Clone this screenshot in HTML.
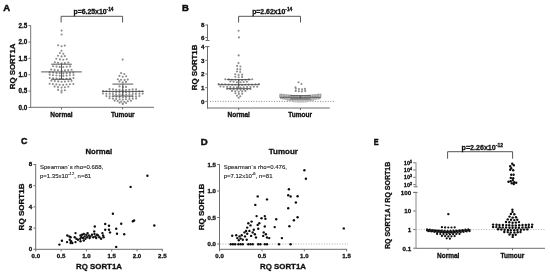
<!DOCTYPE html>
<html><head><meta charset="utf-8"><title>Figure</title>
<style>html,body{margin:0;padding:0;background:#fff;}svg{display:block}text{font-family:"Liberation Sans",sans-serif;}text[font-weight=bold]{stroke:#111;stroke-width:0.3px;}</style>
</head><body>
<svg width="550" height="273" viewBox="0 0 550 273">
<defs><filter id="soft" x="0" y="0" width="550" height="273" filterUnits="userSpaceOnUse"><feGaussianBlur stdDeviation="0.3"/></filter></defs>
<rect width="550" height="273" fill="#fff"/>
<g filter="url(#soft)">
<text x="6.7" y="10.9" font-size="9.5" font-weight="bold" text-anchor="middle" fill="#111" style="stroke-width:0.5px">A</text>
<line x1="30.7" y1="25.3" x2="30.7" y2="107.8" stroke="#777" stroke-width="1" />
<line x1="30.2" y1="107.3" x2="154" y2="107.3" stroke="#6e6e6e" stroke-width="1" />
<line x1="28.5" y1="25.7" x2="30.7" y2="25.7" stroke="#6e6e6e" stroke-width="1" />
<text x="27.3" y="27.9" font-size="6.3" font-weight="bold" text-anchor="end" fill="#111" >2.5</text>
<line x1="28.5" y1="42.1" x2="30.7" y2="42.1" stroke="#6e6e6e" stroke-width="1" />
<text x="27.3" y="44.300000000000004" font-size="6.3" font-weight="bold" text-anchor="end" fill="#111" >2.0</text>
<line x1="28.5" y1="58.4" x2="30.7" y2="58.4" stroke="#6e6e6e" stroke-width="1" />
<text x="27.3" y="60.6" font-size="6.3" font-weight="bold" text-anchor="end" fill="#111" >1.5</text>
<line x1="28.5" y1="74.8" x2="30.7" y2="74.8" stroke="#6e6e6e" stroke-width="1" />
<text x="27.3" y="77.0" font-size="6.3" font-weight="bold" text-anchor="end" fill="#111" >1.0</text>
<line x1="28.5" y1="91.1" x2="30.7" y2="91.1" stroke="#6e6e6e" stroke-width="1" />
<text x="27.3" y="93.3" font-size="6.3" font-weight="bold" text-anchor="end" fill="#111" >0.5</text>
<line x1="28.5" y1="107.5" x2="30.7" y2="107.5" stroke="#6e6e6e" stroke-width="1" />
<text x="27.3" y="109.7" font-size="6.3" font-weight="bold" text-anchor="end" fill="#111" >0.0</text>
<line x1="61.5" y1="107.3" x2="61.5" y2="109.4" stroke="#6e6e6e" stroke-width="1" />
<line x1="122.6" y1="107.3" x2="122.6" y2="109.4" stroke="#6e6e6e" stroke-width="1" />
<text x="15.3" y="66.4" font-size="7.8" font-weight="bold" text-anchor="middle" fill="#111" transform="rotate(-90 15.3 66.4)" >RQ SORT1A</text>
<text x="61.4" y="116.8" font-size="6.5" font-weight="bold" text-anchor="middle" fill="#111" >Normal</text>
<text x="122.8" y="116.8" font-size="6.5" font-weight="bold" text-anchor="middle" fill="#111" >Tumour</text>
<path d="M61.1 22.5V16.3H122.6V22.5" fill="none" stroke="#555" stroke-width="1"/>
<text x="93.5" y="14.2" font-size="6.9" font-weight="bold" text-anchor="middle" fill="#111">p=6.25x10<tspan dy="-3" font-size="4.8">-14</tspan></text>
<circle cx="61.6" cy="30.6" r="1.05" fill="#8c8c8c"/>
<circle cx="61.6" cy="34.5" r="1.05" fill="#8c8c8c"/>
<circle cx="61.6" cy="46.2" r="1.05" fill="#8c8c8c"/>
<circle cx="64.8" cy="45.6" r="1.05" fill="#8c8c8c"/>
<circle cx="58.1" cy="45.3" r="1.05" fill="#8c8c8c"/>
<circle cx="61.5" cy="50.7" r="1.05" fill="#8c8c8c"/>
<circle cx="63.3" cy="53.7" r="1.05" fill="#8c8c8c"/>
<circle cx="59.9" cy="53.0" r="1.05" fill="#8c8c8c"/>
<circle cx="61.6" cy="56.4" r="1.05" fill="#8c8c8c"/>
<circle cx="64.8" cy="56.1" r="1.05" fill="#8c8c8c"/>
<circle cx="58.0" cy="55.8" r="1.05" fill="#8c8c8c"/>
<circle cx="63.3" cy="59.7" r="1.05" fill="#8c8c8c"/>
<circle cx="59.9" cy="59.4" r="1.05" fill="#8c8c8c"/>
<circle cx="66.7" cy="59.2" r="1.05" fill="#8c8c8c"/>
<circle cx="56.3" cy="58.7" r="1.05" fill="#8c8c8c"/>
<circle cx="61.6" cy="63.2" r="1.05" fill="#8c8c8c"/>
<circle cx="64.9" cy="63.1" r="1.05" fill="#8c8c8c"/>
<circle cx="58.0" cy="62.7" r="1.05" fill="#8c8c8c"/>
<circle cx="68.3" cy="62.5" r="1.05" fill="#8c8c8c"/>
<circle cx="54.8" cy="62.3" r="1.05" fill="#8c8c8c"/>
<circle cx="63.3" cy="67.0" r="1.05" fill="#8c8c8c"/>
<circle cx="59.7" cy="66.9" r="1.05" fill="#8c8c8c"/>
<circle cx="66.7" cy="66.7" r="1.05" fill="#8c8c8c"/>
<circle cx="56.5" cy="66.6" r="1.05" fill="#8c8c8c"/>
<circle cx="70.1" cy="66.4" r="1.05" fill="#8c8c8c"/>
<circle cx="53.0" cy="66.2" r="1.05" fill="#8c8c8c"/>
<circle cx="61.6" cy="70.7" r="1.05" fill="#8c8c8c"/>
<circle cx="64.9" cy="70.4" r="1.05" fill="#8c8c8c"/>
<circle cx="58.0" cy="70.3" r="1.05" fill="#8c8c8c"/>
<circle cx="68.2" cy="70.1" r="1.05" fill="#8c8c8c"/>
<circle cx="54.6" cy="69.9" r="1.05" fill="#8c8c8c"/>
<circle cx="71.6" cy="69.7" r="1.05" fill="#8c8c8c"/>
<circle cx="51.2" cy="69.6" r="1.05" fill="#8c8c8c"/>
<circle cx="63.3" cy="73.4" r="1.05" fill="#8c8c8c"/>
<circle cx="59.7" cy="73.2" r="1.05" fill="#8c8c8c"/>
<circle cx="66.7" cy="73.1" r="1.05" fill="#8c8c8c"/>
<circle cx="56.5" cy="73.0" r="1.05" fill="#8c8c8c"/>
<circle cx="70.0" cy="72.9" r="1.05" fill="#8c8c8c"/>
<circle cx="53.1" cy="72.6" r="1.05" fill="#8c8c8c"/>
<circle cx="73.3" cy="72.6" r="1.05" fill="#8c8c8c"/>
<circle cx="49.6" cy="72.4" r="1.05" fill="#8c8c8c"/>
<circle cx="63.3" cy="75.9" r="1.05" fill="#8c8c8c"/>
<circle cx="59.8" cy="75.7" r="1.05" fill="#8c8c8c"/>
<circle cx="66.6" cy="75.6" r="1.05" fill="#8c8c8c"/>
<circle cx="56.4" cy="75.5" r="1.05" fill="#8c8c8c"/>
<circle cx="69.9" cy="75.3" r="1.05" fill="#8c8c8c"/>
<circle cx="52.9" cy="75.2" r="1.05" fill="#8c8c8c"/>
<circle cx="73.5" cy="75.0" r="1.05" fill="#8c8c8c"/>
<circle cx="49.7" cy="74.8" r="1.05" fill="#8c8c8c"/>
<circle cx="63.1" cy="79.1" r="1.05" fill="#8c8c8c"/>
<circle cx="59.8" cy="78.9" r="1.05" fill="#8c8c8c"/>
<circle cx="66.5" cy="78.7" r="1.05" fill="#8c8c8c"/>
<circle cx="56.5" cy="78.5" r="1.05" fill="#8c8c8c"/>
<circle cx="70.0" cy="78.5" r="1.05" fill="#8c8c8c"/>
<circle cx="53.1" cy="78.2" r="1.05" fill="#8c8c8c"/>
<circle cx="73.4" cy="78.1" r="1.05" fill="#8c8c8c"/>
<circle cx="49.7" cy="78.0" r="1.05" fill="#8c8c8c"/>
<circle cx="61.6" cy="81.8" r="1.05" fill="#8c8c8c"/>
<circle cx="64.9" cy="81.6" r="1.05" fill="#8c8c8c"/>
<circle cx="58.2" cy="81.4" r="1.05" fill="#8c8c8c"/>
<circle cx="68.4" cy="81.3" r="1.05" fill="#8c8c8c"/>
<circle cx="54.8" cy="81.1" r="1.05" fill="#8c8c8c"/>
<circle cx="71.6" cy="81.0" r="1.05" fill="#8c8c8c"/>
<circle cx="51.4" cy="80.7" r="1.05" fill="#8c8c8c"/>
<circle cx="63.1" cy="84.9" r="1.05" fill="#8c8c8c"/>
<circle cx="59.7" cy="84.7" r="1.05" fill="#8c8c8c"/>
<circle cx="66.5" cy="84.5" r="1.05" fill="#8c8c8c"/>
<circle cx="56.3" cy="84.4" r="1.05" fill="#8c8c8c"/>
<circle cx="69.9" cy="84.2" r="1.05" fill="#8c8c8c"/>
<circle cx="52.9" cy="84.1" r="1.05" fill="#8c8c8c"/>
<circle cx="73.3" cy="84.0" r="1.05" fill="#8c8c8c"/>
<circle cx="49.6" cy="83.8" r="1.05" fill="#8c8c8c"/>
<circle cx="61.6" cy="87.6" r="1.05" fill="#8c8c8c"/>
<circle cx="64.9" cy="87.3" r="1.05" fill="#8c8c8c"/>
<circle cx="58.0" cy="87.1" r="1.05" fill="#8c8c8c"/>
<circle cx="68.3" cy="86.8" r="1.05" fill="#8c8c8c"/>
<circle cx="54.6" cy="86.6" r="1.05" fill="#8c8c8c"/>
<circle cx="61.6" cy="90.5" r="1.05" fill="#8c8c8c"/>
<circle cx="64.9" cy="90.2" r="1.05" fill="#8c8c8c"/>
<circle cx="58.1" cy="89.9" r="1.05" fill="#8c8c8c"/>
<circle cx="61.5" cy="92.4" r="1.05" fill="#8c8c8c"/>
<line x1="41.2" y1="71.9" x2="81.8" y2="71.9" stroke="#444" stroke-width="0.9" />
<line x1="51.2" y1="64.2" x2="71.8" y2="64.2" stroke="#444" stroke-width="0.9" />
<line x1="51.2" y1="79.3" x2="71.8" y2="79.3" stroke="#444" stroke-width="0.9" />
<line x1="61.5" y1="64.2" x2="61.5" y2="79.3" stroke="#444" stroke-width="0.9" />
<circle cx="122.6" cy="59.6" r="1.05" fill="#8c8c8c"/>
<circle cx="124.3" cy="74.0" r="1.05" fill="#8c8c8c"/>
<circle cx="121.1" cy="73.1" r="1.05" fill="#8c8c8c"/>
<circle cx="122.7" cy="76.7" r="1.05" fill="#8c8c8c"/>
<circle cx="126.2" cy="76.3" r="1.05" fill="#8c8c8c"/>
<circle cx="119.4" cy="75.9" r="1.05" fill="#8c8c8c"/>
<circle cx="124.6" cy="79.9" r="1.05" fill="#8c8c8c"/>
<circle cx="121.0" cy="79.8" r="1.05" fill="#8c8c8c"/>
<circle cx="127.8" cy="79.6" r="1.05" fill="#8c8c8c"/>
<circle cx="117.8" cy="79.2" r="1.05" fill="#8c8c8c"/>
<circle cx="122.8" cy="82.4" r="1.05" fill="#8c8c8c"/>
<circle cx="126.0" cy="81.9" r="1.05" fill="#8c8c8c"/>
<circle cx="119.4" cy="81.4" r="1.05" fill="#8c8c8c"/>
<circle cx="122.9" cy="87.1" r="1.05" fill="#8c8c8c"/>
<circle cx="126.0" cy="86.9" r="1.05" fill="#8c8c8c"/>
<circle cx="119.5" cy="86.4" r="1.05" fill="#8c8c8c"/>
<circle cx="122.7" cy="90.2" r="1.05" fill="#8c8c8c"/>
<circle cx="126.0" cy="90.0" r="1.05" fill="#8c8c8c"/>
<circle cx="119.5" cy="89.9" r="1.05" fill="#8c8c8c"/>
<circle cx="129.3" cy="89.7" r="1.05" fill="#8c8c8c"/>
<circle cx="116.2" cy="89.7" r="1.05" fill="#8c8c8c"/>
<circle cx="132.7" cy="89.4" r="1.05" fill="#8c8c8c"/>
<circle cx="113.0" cy="89.3" r="1.05" fill="#8c8c8c"/>
<circle cx="136.1" cy="89.2" r="1.05" fill="#8c8c8c"/>
<circle cx="109.5" cy="89.1" r="1.05" fill="#8c8c8c"/>
<circle cx="122.9" cy="92.3" r="1.05" fill="#8c8c8c"/>
<circle cx="126.0" cy="92.2" r="1.05" fill="#8c8c8c"/>
<circle cx="119.4" cy="92.1" r="1.05" fill="#8c8c8c"/>
<circle cx="129.3" cy="92.0" r="1.05" fill="#8c8c8c"/>
<circle cx="116.2" cy="91.9" r="1.05" fill="#8c8c8c"/>
<circle cx="132.7" cy="91.8" r="1.05" fill="#8c8c8c"/>
<circle cx="113.0" cy="91.7" r="1.05" fill="#8c8c8c"/>
<circle cx="136.0" cy="91.6" r="1.05" fill="#8c8c8c"/>
<circle cx="109.7" cy="91.5" r="1.05" fill="#8c8c8c"/>
<circle cx="139.2" cy="91.4" r="1.05" fill="#8c8c8c"/>
<circle cx="106.4" cy="91.3" r="1.05" fill="#8c8c8c"/>
<circle cx="142.5" cy="91.2" r="1.05" fill="#8c8c8c"/>
<circle cx="103.1" cy="91.1" r="1.05" fill="#8c8c8c"/>
<circle cx="122.7" cy="94.6" r="1.05" fill="#8c8c8c"/>
<circle cx="126.2" cy="94.5" r="1.05" fill="#8c8c8c"/>
<circle cx="119.6" cy="94.4" r="1.05" fill="#8c8c8c"/>
<circle cx="129.4" cy="94.3" r="1.05" fill="#8c8c8c"/>
<circle cx="116.1" cy="94.2" r="1.05" fill="#8c8c8c"/>
<circle cx="132.7" cy="94.1" r="1.05" fill="#8c8c8c"/>
<circle cx="112.9" cy="94.0" r="1.05" fill="#8c8c8c"/>
<circle cx="135.9" cy="93.9" r="1.05" fill="#8c8c8c"/>
<circle cx="109.7" cy="93.8" r="1.05" fill="#8c8c8c"/>
<circle cx="139.4" cy="93.7" r="1.05" fill="#8c8c8c"/>
<circle cx="106.3" cy="93.7" r="1.05" fill="#8c8c8c"/>
<circle cx="142.7" cy="93.6" r="1.05" fill="#8c8c8c"/>
<circle cx="102.9" cy="93.5" r="1.05" fill="#8c8c8c"/>
<circle cx="122.9" cy="97.2" r="1.05" fill="#8c8c8c"/>
<circle cx="126.0" cy="97.0" r="1.05" fill="#8c8c8c"/>
<circle cx="119.5" cy="96.9" r="1.05" fill="#8c8c8c"/>
<circle cx="129.5" cy="96.8" r="1.05" fill="#8c8c8c"/>
<circle cx="116.3" cy="96.7" r="1.05" fill="#8c8c8c"/>
<circle cx="132.6" cy="96.6" r="1.05" fill="#8c8c8c"/>
<circle cx="112.8" cy="96.5" r="1.05" fill="#8c8c8c"/>
<circle cx="136.0" cy="96.4" r="1.05" fill="#8c8c8c"/>
<circle cx="109.7" cy="96.2" r="1.05" fill="#8c8c8c"/>
<circle cx="139.4" cy="96.1" r="1.05" fill="#8c8c8c"/>
<circle cx="106.4" cy="96.1" r="1.05" fill="#8c8c8c"/>
<circle cx="122.8" cy="99.5" r="1.05" fill="#8c8c8c"/>
<circle cx="126.0" cy="99.3" r="1.05" fill="#8c8c8c"/>
<circle cx="119.6" cy="99.2" r="1.05" fill="#8c8c8c"/>
<circle cx="129.4" cy="99.0" r="1.05" fill="#8c8c8c"/>
<circle cx="116.2" cy="99.0" r="1.05" fill="#8c8c8c"/>
<circle cx="132.8" cy="98.7" r="1.05" fill="#8c8c8c"/>
<circle cx="113.0" cy="98.7" r="1.05" fill="#8c8c8c"/>
<circle cx="136.1" cy="98.5" r="1.05" fill="#8c8c8c"/>
<circle cx="109.5" cy="98.3" r="1.05" fill="#8c8c8c"/>
<circle cx="124.3" cy="101.7" r="1.05" fill="#8c8c8c"/>
<circle cx="121.2" cy="101.5" r="1.05" fill="#8c8c8c"/>
<circle cx="127.8" cy="101.2" r="1.05" fill="#8c8c8c"/>
<circle cx="117.7" cy="101.0" r="1.05" fill="#8c8c8c"/>
<circle cx="131.0" cy="100.8" r="1.05" fill="#8c8c8c"/>
<circle cx="114.7" cy="100.6" r="1.05" fill="#8c8c8c"/>
<circle cx="122.7" cy="103.5" r="1.05" fill="#8c8c8c"/>
<circle cx="126.0" cy="103.0" r="1.05" fill="#8c8c8c"/>
<circle cx="119.6" cy="102.6" r="1.05" fill="#8c8c8c"/>
<circle cx="122.8" cy="104.0" r="1.05" fill="#8c8c8c"/>
<line x1="102.0" y1="91.4" x2="143.6" y2="91.4" stroke="#444" stroke-width="0.9" />
<line x1="112.39999999999999" y1="84.1" x2="133.2" y2="84.1" stroke="#444" stroke-width="0.9" />
<line x1="112.39999999999999" y1="96" x2="133.2" y2="96" stroke="#444" stroke-width="0.9" />
<line x1="122.8" y1="84.1" x2="122.8" y2="96" stroke="#444" stroke-width="0.9" />
<text x="185.4" y="10.8" font-size="9.5" font-weight="bold" text-anchor="middle" fill="#111" style="stroke-width:0.5px">B</text>
<line x1="207.5" y1="24.5" x2="207.5" y2="40.5" stroke="#6e6e6e" stroke-width="1" />
<line x1="205.5" y1="40.5" x2="209.5" y2="40.5" stroke="#6e6e6e" stroke-width="1" />
<line x1="205.5" y1="46.6" x2="209.5" y2="46.6" stroke="#6e6e6e" stroke-width="1" />
<line x1="207.5" y1="46.6" x2="207.5" y2="108.5" stroke="#6e6e6e" stroke-width="1" />
<line x1="207" y1="108" x2="329.8" y2="108" stroke="#6e6e6e" stroke-width="1" />
<line x1="205.3" y1="25" x2="207.5" y2="25" stroke="#6e6e6e" stroke-width="1" />
<text x="204.4" y="27.2" font-size="6.2" font-weight="bold" text-anchor="end" fill="#111" >8</text>
<line x1="205.3" y1="37.5" x2="207.5" y2="37.5" stroke="#6e6e6e" stroke-width="1" />
<text x="204.4" y="39.7" font-size="6.2" font-weight="bold" text-anchor="end" fill="#111" >6</text>
<line x1="205.3" y1="46.6" x2="207.5" y2="46.6" stroke="#6e6e6e" stroke-width="1" />
<text x="204.4" y="48.800000000000004" font-size="6.2" font-weight="bold" text-anchor="end" fill="#111" >4</text>
<line x1="205.3" y1="60.3" x2="207.5" y2="60.3" stroke="#6e6e6e" stroke-width="1" />
<text x="204.4" y="62.5" font-size="6.2" font-weight="bold" text-anchor="end" fill="#111" >3</text>
<line x1="205.3" y1="74" x2="207.5" y2="74" stroke="#6e6e6e" stroke-width="1" />
<text x="204.4" y="76.2" font-size="6.2" font-weight="bold" text-anchor="end" fill="#111" >2</text>
<line x1="205.3" y1="87.7" x2="207.5" y2="87.7" stroke="#6e6e6e" stroke-width="1" />
<text x="204.4" y="89.9" font-size="6.2" font-weight="bold" text-anchor="end" fill="#111" >1</text>
<line x1="205.3" y1="101.4" x2="207.5" y2="101.4" stroke="#6e6e6e" stroke-width="1" />
<text x="204.4" y="103.60000000000001" font-size="6.2" font-weight="bold" text-anchor="end" fill="#111" >0</text>
<line x1="210" y1="101.4" x2="334" y2="101.4" stroke="#8a8a8a" stroke-width="1" stroke-dasharray="1 1.56"/>
<line x1="238.6" y1="108" x2="238.6" y2="110" stroke="#6e6e6e" stroke-width="1" />
<line x1="300.5" y1="108" x2="300.5" y2="110" stroke="#6e6e6e" stroke-width="1" />
<text x="197.3" y="67.4" font-size="7.8" font-weight="bold" text-anchor="middle" fill="#111" transform="rotate(-90 197.3 67.4)" >RQ SORT1B</text>
<text x="238.7" y="116.8" font-size="6.5" font-weight="bold" text-anchor="middle" fill="#111" >Normal</text>
<text x="300.2" y="116.8" font-size="6.5" font-weight="bold" text-anchor="middle" fill="#111" >Tumour</text>
<path d="M238.6 22.5V16.3H300.5V22.5" fill="none" stroke="#555" stroke-width="1"/>
<text x="272.2" y="14.2" font-size="6.9" font-weight="bold" text-anchor="middle" fill="#111">p=2.62x10<tspan dy="-3" font-size="4.8">-14</tspan></text>
<circle cx="238.6" cy="30.7" r="1.05" fill="#8c8c8c"/>
<circle cx="238.9" cy="37.4" r="1.05" fill="#8c8c8c"/>
<circle cx="238.7" cy="55.4" r="1.05" fill="#8c8c8c"/>
<circle cx="238.5" cy="63.1" r="1.05" fill="#8c8c8c"/>
<circle cx="240.4" cy="66.5" r="1.05" fill="#8c8c8c"/>
<circle cx="237.1" cy="65.9" r="1.05" fill="#8c8c8c"/>
<circle cx="240.3" cy="69.4" r="1.05" fill="#8c8c8c"/>
<circle cx="237.3" cy="69.1" r="1.05" fill="#8c8c8c"/>
<circle cx="240.1" cy="72.0" r="1.05" fill="#8c8c8c"/>
<circle cx="237.0" cy="71.5" r="1.05" fill="#8c8c8c"/>
<circle cx="238.6" cy="74.9" r="1.05" fill="#8c8c8c"/>
<circle cx="242.1" cy="74.6" r="1.05" fill="#8c8c8c"/>
<circle cx="235.3" cy="74.3" r="1.05" fill="#8c8c8c"/>
<circle cx="238.7" cy="77.2" r="1.05" fill="#8c8c8c"/>
<circle cx="242.1" cy="76.9" r="1.05" fill="#8c8c8c"/>
<circle cx="235.3" cy="76.8" r="1.05" fill="#8c8c8c"/>
<circle cx="238.8" cy="80.1" r="1.05" fill="#8c8c8c"/>
<circle cx="242.0" cy="80.0" r="1.05" fill="#8c8c8c"/>
<circle cx="235.4" cy="79.8" r="1.05" fill="#8c8c8c"/>
<circle cx="245.4" cy="79.7" r="1.05" fill="#8c8c8c"/>
<circle cx="231.9" cy="79.7" r="1.05" fill="#8c8c8c"/>
<circle cx="248.8" cy="79.4" r="1.05" fill="#8c8c8c"/>
<circle cx="228.8" cy="79.4" r="1.05" fill="#8c8c8c"/>
<circle cx="252.2" cy="79.3" r="1.05" fill="#8c8c8c"/>
<circle cx="225.3" cy="79.2" r="1.05" fill="#8c8c8c"/>
<circle cx="240.5" cy="82.3" r="1.05" fill="#8c8c8c"/>
<circle cx="236.9" cy="82.2" r="1.05" fill="#8c8c8c"/>
<circle cx="243.6" cy="82.0" r="1.05" fill="#8c8c8c"/>
<circle cx="233.6" cy="81.8" r="1.05" fill="#8c8c8c"/>
<circle cx="246.9" cy="81.7" r="1.05" fill="#8c8c8c"/>
<circle cx="230.3" cy="81.5" r="1.05" fill="#8c8c8c"/>
<circle cx="238.7" cy="84.9" r="1.05" fill="#8c8c8c"/>
<circle cx="242.0" cy="84.9" r="1.05" fill="#8c8c8c"/>
<circle cx="235.3" cy="84.8" r="1.05" fill="#8c8c8c"/>
<circle cx="245.3" cy="84.8" r="1.05" fill="#8c8c8c"/>
<circle cx="232.1" cy="84.7" r="1.05" fill="#8c8c8c"/>
<circle cx="248.7" cy="84.6" r="1.05" fill="#8c8c8c"/>
<circle cx="228.6" cy="84.5" r="1.05" fill="#8c8c8c"/>
<circle cx="252.0" cy="84.5" r="1.05" fill="#8c8c8c"/>
<circle cx="225.3" cy="84.3" r="1.05" fill="#8c8c8c"/>
<circle cx="255.5" cy="84.3" r="1.05" fill="#8c8c8c"/>
<circle cx="221.9" cy="84.2" r="1.05" fill="#8c8c8c"/>
<circle cx="258.9" cy="84.1" r="1.05" fill="#8c8c8c"/>
<circle cx="218.7" cy="84.0" r="1.05" fill="#8c8c8c"/>
<circle cx="240.5" cy="87.5" r="1.05" fill="#8c8c8c"/>
<circle cx="237.0" cy="87.4" r="1.05" fill="#8c8c8c"/>
<circle cx="243.7" cy="87.3" r="1.05" fill="#8c8c8c"/>
<circle cx="233.7" cy="87.2" r="1.05" fill="#8c8c8c"/>
<circle cx="247.1" cy="87.1" r="1.05" fill="#8c8c8c"/>
<circle cx="230.3" cy="87.1" r="1.05" fill="#8c8c8c"/>
<circle cx="250.5" cy="87.0" r="1.05" fill="#8c8c8c"/>
<circle cx="227.1" cy="86.9" r="1.05" fill="#8c8c8c"/>
<circle cx="253.8" cy="86.8" r="1.05" fill="#8c8c8c"/>
<circle cx="223.6" cy="86.7" r="1.05" fill="#8c8c8c"/>
<circle cx="257.2" cy="86.7" r="1.05" fill="#8c8c8c"/>
<circle cx="220.4" cy="86.5" r="1.05" fill="#8c8c8c"/>
<circle cx="240.5" cy="89.7" r="1.05" fill="#8c8c8c"/>
<circle cx="237.2" cy="89.6" r="1.05" fill="#8c8c8c"/>
<circle cx="243.9" cy="89.5" r="1.05" fill="#8c8c8c"/>
<circle cx="233.6" cy="89.3" r="1.05" fill="#8c8c8c"/>
<circle cx="247.1" cy="89.2" r="1.05" fill="#8c8c8c"/>
<circle cx="230.2" cy="89.1" r="1.05" fill="#8c8c8c"/>
<circle cx="250.5" cy="89.0" r="1.05" fill="#8c8c8c"/>
<circle cx="227.1" cy="88.8" r="1.05" fill="#8c8c8c"/>
<circle cx="238.8" cy="91.8" r="1.05" fill="#8c8c8c"/>
<circle cx="242.1" cy="91.4" r="1.05" fill="#8c8c8c"/>
<circle cx="235.3" cy="91.2" r="1.05" fill="#8c8c8c"/>
<circle cx="245.4" cy="91.1" r="1.05" fill="#8c8c8c"/>
<circle cx="232.0" cy="90.9" r="1.05" fill="#8c8c8c"/>
<circle cx="238.8" cy="93.9" r="1.05" fill="#8c8c8c"/>
<circle cx="242.2" cy="93.7" r="1.05" fill="#8c8c8c"/>
<circle cx="235.4" cy="93.2" r="1.05" fill="#8c8c8c"/>
<circle cx="240.3" cy="96.3" r="1.05" fill="#8c8c8c"/>
<circle cx="237.0" cy="95.8" r="1.05" fill="#8c8c8c"/>
<circle cx="238.7" cy="97.7" r="1.05" fill="#8c8c8c"/>
<line x1="217.89999999999998" y1="84.7" x2="259.5" y2="84.7" stroke="#444" stroke-width="0.9" />
<line x1="226.7" y1="79.6" x2="250.7" y2="79.6" stroke="#444" stroke-width="0.9" />
<line x1="226.7" y1="88.7" x2="250.7" y2="88.7" stroke="#444" stroke-width="0.9" />
<line x1="238.7" y1="79.6" x2="238.7" y2="88.7" stroke="#444" stroke-width="0.9" />
<circle cx="298.5" cy="82.3" r="1.05" fill="#8c8c8c"/>
<circle cx="301.4" cy="84.0" r="1.05" fill="#8c8c8c"/>
<circle cx="295.4" cy="87.2" r="1.05" fill="#8c8c8c"/>
<circle cx="302.1" cy="89.2" r="1.05" fill="#8c8c8c"/>
<circle cx="299.0" cy="89.0" r="1.05" fill="#8c8c8c"/>
<circle cx="305.0" cy="88.9" r="1.05" fill="#8c8c8c"/>
<circle cx="295.8" cy="88.6" r="1.05" fill="#8c8c8c"/>
<circle cx="301.9" cy="91.4" r="1.05" fill="#8c8c8c"/>
<circle cx="298.8" cy="91.2" r="1.05" fill="#8c8c8c"/>
<circle cx="305.2" cy="91.1" r="1.05" fill="#8c8c8c"/>
<circle cx="295.7" cy="90.9" r="1.05" fill="#8c8c8c"/>
<circle cx="280.1" cy="94.3" r="0.9" fill="#a2a2a2"/>
<circle cx="281.7" cy="94.5" r="0.9" fill="#a2a2a2"/>
<circle cx="283.3" cy="94.7" r="0.9" fill="#a2a2a2"/>
<circle cx="284.9" cy="94.9" r="0.9" fill="#a2a2a2"/>
<circle cx="286.5" cy="95.0" r="0.9" fill="#a2a2a2"/>
<circle cx="288.2" cy="95.2" r="0.9" fill="#a2a2a2"/>
<circle cx="289.8" cy="95.3" r="0.9" fill="#a2a2a2"/>
<circle cx="291.4" cy="95.5" r="0.9" fill="#a2a2a2"/>
<circle cx="293.0" cy="95.6" r="0.9" fill="#a2a2a2"/>
<circle cx="294.6" cy="95.7" r="0.9" fill="#a2a2a2"/>
<circle cx="296.2" cy="95.8" r="0.9" fill="#a2a2a2"/>
<circle cx="297.9" cy="95.8" r="0.9" fill="#a2a2a2"/>
<circle cx="299.5" cy="95.9" r="0.9" fill="#a2a2a2"/>
<circle cx="301.1" cy="95.9" r="0.9" fill="#a2a2a2"/>
<circle cx="302.7" cy="95.8" r="0.9" fill="#a2a2a2"/>
<circle cx="304.4" cy="95.8" r="0.9" fill="#a2a2a2"/>
<circle cx="306.0" cy="95.7" r="0.9" fill="#a2a2a2"/>
<circle cx="307.6" cy="95.6" r="0.9" fill="#a2a2a2"/>
<circle cx="309.2" cy="95.5" r="0.9" fill="#a2a2a2"/>
<circle cx="310.8" cy="95.3" r="0.9" fill="#a2a2a2"/>
<circle cx="312.4" cy="95.2" r="0.9" fill="#a2a2a2"/>
<circle cx="314.1" cy="95.0" r="0.9" fill="#a2a2a2"/>
<circle cx="315.7" cy="94.9" r="0.9" fill="#a2a2a2"/>
<circle cx="317.3" cy="94.7" r="0.9" fill="#a2a2a2"/>
<circle cx="318.9" cy="94.5" r="0.9" fill="#a2a2a2"/>
<circle cx="320.6" cy="94.3" r="0.9" fill="#a2a2a2"/>
<circle cx="280.1" cy="95.6" r="0.9" fill="#a2a2a2"/>
<circle cx="281.7" cy="95.8" r="0.9" fill="#a2a2a2"/>
<circle cx="283.3" cy="96.0" r="0.9" fill="#a2a2a2"/>
<circle cx="284.9" cy="96.2" r="0.9" fill="#a2a2a2"/>
<circle cx="286.5" cy="96.3" r="0.9" fill="#a2a2a2"/>
<circle cx="288.2" cy="96.5" r="0.9" fill="#a2a2a2"/>
<circle cx="289.8" cy="96.6" r="0.9" fill="#a2a2a2"/>
<circle cx="291.4" cy="96.8" r="0.9" fill="#a2a2a2"/>
<circle cx="293.0" cy="96.9" r="0.9" fill="#a2a2a2"/>
<circle cx="294.6" cy="97.0" r="0.9" fill="#a2a2a2"/>
<circle cx="296.2" cy="97.1" r="0.9" fill="#a2a2a2"/>
<circle cx="297.9" cy="97.1" r="0.9" fill="#a2a2a2"/>
<circle cx="299.5" cy="97.2" r="0.9" fill="#a2a2a2"/>
<circle cx="301.1" cy="97.2" r="0.9" fill="#a2a2a2"/>
<circle cx="302.7" cy="97.1" r="0.9" fill="#a2a2a2"/>
<circle cx="304.4" cy="97.1" r="0.9" fill="#a2a2a2"/>
<circle cx="306.0" cy="97.0" r="0.9" fill="#a2a2a2"/>
<circle cx="307.6" cy="96.9" r="0.9" fill="#a2a2a2"/>
<circle cx="309.2" cy="96.8" r="0.9" fill="#a2a2a2"/>
<circle cx="310.8" cy="96.6" r="0.9" fill="#a2a2a2"/>
<circle cx="312.4" cy="96.5" r="0.9" fill="#a2a2a2"/>
<circle cx="314.1" cy="96.3" r="0.9" fill="#a2a2a2"/>
<circle cx="315.7" cy="96.2" r="0.9" fill="#a2a2a2"/>
<circle cx="317.3" cy="96.0" r="0.9" fill="#a2a2a2"/>
<circle cx="318.9" cy="95.8" r="0.9" fill="#a2a2a2"/>
<circle cx="320.6" cy="95.6" r="0.9" fill="#a2a2a2"/>
<circle cx="280.1" cy="96.9" r="0.9" fill="#a2a2a2"/>
<circle cx="281.7" cy="97.1" r="0.9" fill="#a2a2a2"/>
<circle cx="283.3" cy="97.3" r="0.9" fill="#a2a2a2"/>
<circle cx="284.9" cy="97.5" r="0.9" fill="#a2a2a2"/>
<circle cx="286.5" cy="97.6" r="0.9" fill="#a2a2a2"/>
<circle cx="288.2" cy="97.8" r="0.9" fill="#a2a2a2"/>
<circle cx="289.8" cy="97.9" r="0.9" fill="#a2a2a2"/>
<circle cx="291.4" cy="98.1" r="0.9" fill="#a2a2a2"/>
<circle cx="293.0" cy="98.2" r="0.9" fill="#a2a2a2"/>
<circle cx="294.6" cy="98.3" r="0.9" fill="#a2a2a2"/>
<circle cx="296.2" cy="98.4" r="0.9" fill="#a2a2a2"/>
<circle cx="297.9" cy="98.4" r="0.9" fill="#a2a2a2"/>
<circle cx="299.5" cy="98.5" r="0.9" fill="#a2a2a2"/>
<circle cx="301.1" cy="98.5" r="0.9" fill="#a2a2a2"/>
<circle cx="302.7" cy="98.4" r="0.9" fill="#a2a2a2"/>
<circle cx="304.4" cy="98.4" r="0.9" fill="#a2a2a2"/>
<circle cx="306.0" cy="98.3" r="0.9" fill="#a2a2a2"/>
<circle cx="307.6" cy="98.2" r="0.9" fill="#a2a2a2"/>
<circle cx="309.2" cy="98.1" r="0.9" fill="#a2a2a2"/>
<circle cx="310.8" cy="97.9" r="0.9" fill="#a2a2a2"/>
<circle cx="312.4" cy="97.8" r="0.9" fill="#a2a2a2"/>
<circle cx="314.1" cy="97.6" r="0.9" fill="#a2a2a2"/>
<circle cx="315.7" cy="97.5" r="0.9" fill="#a2a2a2"/>
<circle cx="317.3" cy="97.3" r="0.9" fill="#a2a2a2"/>
<circle cx="318.9" cy="97.1" r="0.9" fill="#a2a2a2"/>
<circle cx="320.6" cy="96.9" r="0.9" fill="#a2a2a2"/>
<circle cx="280.9" cy="98.3" r="0.9" fill="#a2a2a2"/>
<circle cx="282.5" cy="98.5" r="0.9" fill="#a2a2a2"/>
<circle cx="284.1" cy="98.7" r="0.9" fill="#a2a2a2"/>
<circle cx="285.7" cy="98.9" r="0.9" fill="#a2a2a2"/>
<circle cx="287.3" cy="99.0" r="0.9" fill="#a2a2a2"/>
<circle cx="289.0" cy="99.2" r="0.9" fill="#a2a2a2"/>
<circle cx="290.6" cy="99.3" r="0.9" fill="#a2a2a2"/>
<circle cx="292.2" cy="99.4" r="0.9" fill="#a2a2a2"/>
<circle cx="293.8" cy="99.5" r="0.9" fill="#a2a2a2"/>
<circle cx="295.4" cy="99.6" r="0.9" fill="#a2a2a2"/>
<circle cx="297.1" cy="99.7" r="0.9" fill="#a2a2a2"/>
<circle cx="298.7" cy="99.8" r="0.9" fill="#a2a2a2"/>
<circle cx="300.3" cy="99.8" r="0.9" fill="#a2a2a2"/>
<circle cx="301.9" cy="99.8" r="0.9" fill="#a2a2a2"/>
<circle cx="303.5" cy="99.7" r="0.9" fill="#a2a2a2"/>
<circle cx="305.2" cy="99.6" r="0.9" fill="#a2a2a2"/>
<circle cx="306.8" cy="99.5" r="0.9" fill="#a2a2a2"/>
<circle cx="308.4" cy="99.4" r="0.9" fill="#a2a2a2"/>
<circle cx="310.0" cy="99.3" r="0.9" fill="#a2a2a2"/>
<circle cx="311.6" cy="99.2" r="0.9" fill="#a2a2a2"/>
<circle cx="313.3" cy="99.0" r="0.9" fill="#a2a2a2"/>
<circle cx="314.9" cy="98.9" r="0.9" fill="#a2a2a2"/>
<circle cx="316.5" cy="98.7" r="0.9" fill="#a2a2a2"/>
<circle cx="318.1" cy="98.5" r="0.9" fill="#a2a2a2"/>
<circle cx="319.7" cy="98.3" r="0.9" fill="#a2a2a2"/>
<circle cx="287.3" cy="100.1" r="0.9" fill="#b4b4b4"/>
<circle cx="289.0" cy="100.3" r="0.9" fill="#b4b4b4"/>
<circle cx="290.6" cy="100.4" r="0.9" fill="#b4b4b4"/>
<circle cx="292.2" cy="100.5" r="0.9" fill="#b4b4b4"/>
<circle cx="293.8" cy="100.6" r="0.9" fill="#b4b4b4"/>
<circle cx="295.4" cy="100.7" r="0.9" fill="#b4b4b4"/>
<circle cx="297.1" cy="100.8" r="0.9" fill="#b4b4b4"/>
<circle cx="298.7" cy="100.9" r="0.9" fill="#b4b4b4"/>
<circle cx="300.3" cy="100.9" r="0.9" fill="#b4b4b4"/>
<circle cx="301.9" cy="100.9" r="0.9" fill="#b4b4b4"/>
<circle cx="303.5" cy="100.8" r="0.9" fill="#b4b4b4"/>
<circle cx="305.2" cy="100.7" r="0.9" fill="#b4b4b4"/>
<circle cx="306.8" cy="100.6" r="0.9" fill="#b4b4b4"/>
<circle cx="308.4" cy="100.5" r="0.9" fill="#b4b4b4"/>
<circle cx="310.0" cy="100.4" r="0.9" fill="#b4b4b4"/>
<circle cx="311.6" cy="100.3" r="0.9" fill="#b4b4b4"/>
<circle cx="313.3" cy="100.1" r="0.9" fill="#b4b4b4"/>
<circle cx="293.8" cy="101.6" r="0.9" fill="#c4c4c4"/>
<circle cx="295.4" cy="101.7" r="0.9" fill="#c4c4c4"/>
<circle cx="297.1" cy="101.8" r="0.9" fill="#c4c4c4"/>
<circle cx="298.7" cy="101.9" r="0.9" fill="#c4c4c4"/>
<circle cx="300.3" cy="101.9" r="0.9" fill="#c4c4c4"/>
<circle cx="301.9" cy="101.9" r="0.9" fill="#c4c4c4"/>
<circle cx="303.5" cy="101.8" r="0.9" fill="#c4c4c4"/>
<circle cx="305.2" cy="101.7" r="0.9" fill="#c4c4c4"/>
<circle cx="306.8" cy="101.6" r="0.9" fill="#c4c4c4"/>
<line x1="279.8" y1="97.3" x2="320.8" y2="97.3" stroke="#4a4a4a" stroke-width="0.8" />
<line x1="290.1" y1="95.6" x2="310.5" y2="95.6" stroke="#4a4a4a" stroke-width="0.8" />
<line x1="290.1" y1="98.9" x2="310.5" y2="98.9" stroke="#4a4a4a" stroke-width="0.8" />
<line x1="300.3" y1="95.6" x2="300.3" y2="98.9" stroke="#4a4a4a" stroke-width="0.8" />
<text transform="translate(21.1,144.2) scale(0.92,1.02)" font-size="9.6" font-weight="bold" fill="#111" style="stroke-width:0.5px">C</text>
<text x="98.8" y="154.1" font-size="7.75" font-weight="bold" text-anchor="middle" fill="#111" >Normal</text>
<line x1="35.7" y1="164" x2="35.7" y2="249.8" stroke="#6e6e6e" stroke-width="1" />
<line x1="35.5" y1="249.3" x2="162.8" y2="249.3" stroke="#6e6e6e" stroke-width="1" />
<line x1="33.4" y1="164.5" x2="35.7" y2="164.5" stroke="#6e6e6e" stroke-width="1" />
<text x="32.3" y="166.4" font-size="6.2" font-weight="bold" text-anchor="end" fill="#111" >8</text>
<line x1="33.4" y1="185.7" x2="35.7" y2="185.7" stroke="#6e6e6e" stroke-width="1" />
<text x="32.3" y="187.6" font-size="6.2" font-weight="bold" text-anchor="end" fill="#111" >6</text>
<line x1="33.4" y1="206.9" x2="35.7" y2="206.9" stroke="#6e6e6e" stroke-width="1" />
<text x="32.3" y="208.8" font-size="6.2" font-weight="bold" text-anchor="end" fill="#111" >4</text>
<line x1="33.4" y1="228.1" x2="35.7" y2="228.1" stroke="#6e6e6e" stroke-width="1" />
<text x="32.3" y="230.0" font-size="6.2" font-weight="bold" text-anchor="end" fill="#111" >2</text>
<line x1="33.4" y1="249.3" x2="35.7" y2="249.3" stroke="#6e6e6e" stroke-width="1" />
<text x="32.3" y="251.20000000000002" font-size="6.2" font-weight="bold" text-anchor="end" fill="#111" >0</text>
<line x1="35.8" y1="249.3" x2="35.8" y2="251.4" stroke="#6e6e6e" stroke-width="1" />
<text x="35.8" y="258.3" font-size="6.1" font-weight="bold" text-anchor="middle" fill="#111" >0.0</text>
<line x1="61.1" y1="249.3" x2="61.1" y2="251.4" stroke="#6e6e6e" stroke-width="1" />
<text x="61.1" y="258.3" font-size="6.1" font-weight="bold" text-anchor="middle" fill="#111" >0.5</text>
<line x1="86.4" y1="249.3" x2="86.4" y2="251.4" stroke="#6e6e6e" stroke-width="1" />
<text x="86.4" y="258.3" font-size="6.1" font-weight="bold" text-anchor="middle" fill="#111" >1.0</text>
<line x1="111.7" y1="249.3" x2="111.7" y2="251.4" stroke="#6e6e6e" stroke-width="1" />
<text x="111.7" y="258.3" font-size="6.1" font-weight="bold" text-anchor="middle" fill="#111" >1.5</text>
<line x1="137" y1="249.3" x2="137" y2="251.4" stroke="#6e6e6e" stroke-width="1" />
<text x="137" y="258.3" font-size="6.1" font-weight="bold" text-anchor="middle" fill="#111" >2.0</text>
<line x1="162.3" y1="249.3" x2="162.3" y2="251.4" stroke="#6e6e6e" stroke-width="1" />
<text x="162.3" y="258.3" font-size="6.1" font-weight="bold" text-anchor="middle" fill="#111" >2.5</text>
<text x="99" y="269" font-size="7.9" font-weight="bold" text-anchor="middle" fill="#111" >RQ SORT1A</text>
<text x="24.2" y="206.9" font-size="8.05" font-weight="bold" text-anchor="middle" fill="#111" transform="rotate(-90 24.2 206.9)" >RQ SORT1B</text>
<text x="40" y="169" font-size="6.0" font-weight="normal" text-anchor="start" fill="#222" stroke="#222" stroke-width="0.12">Spearman´s rho=0.688,</text>
<text x="40" y="177.6" font-size="6" fill="#222" stroke="#222" stroke-width="0.12">p=1.35x10<tspan dy="-2.4" font-size="4.2">-12</tspan><tspan dy="2.4">, n=81</tspan></text>
<circle cx="59.4" cy="244.6" r="1.2" fill="#111"/>
<circle cx="61.9" cy="240.8" r="1.2" fill="#111"/>
<circle cx="67.3" cy="235.5" r="1.2" fill="#111"/>
<circle cx="67.0" cy="242.1" r="1.2" fill="#111"/>
<circle cx="69.4" cy="236.4" r="1.2" fill="#111"/>
<circle cx="70.6" cy="237.2" r="1.2" fill="#111"/>
<circle cx="69.8" cy="239.7" r="1.2" fill="#111"/>
<circle cx="71.1" cy="241.3" r="1.2" fill="#111"/>
<circle cx="72.3" cy="243.0" r="1.2" fill="#111"/>
<circle cx="70.6" cy="243.0" r="1.2" fill="#111"/>
<circle cx="75.5" cy="233.1" r="1.2" fill="#111"/>
<circle cx="74.7" cy="237.2" r="1.2" fill="#111"/>
<circle cx="76.4" cy="238.8" r="1.2" fill="#111"/>
<circle cx="75.5" cy="242.1" r="1.2" fill="#111"/>
<circle cx="78.0" cy="239.7" r="1.2" fill="#111"/>
<circle cx="80.5" cy="235.5" r="1.2" fill="#111"/>
<circle cx="80.2" cy="238.8" r="1.2" fill="#111"/>
<circle cx="81.3" cy="237.2" r="1.2" fill="#111"/>
<circle cx="80.5" cy="241.3" r="1.2" fill="#111"/>
<circle cx="82.1" cy="234.7" r="1.2" fill="#111"/>
<circle cx="83.0" cy="238.0" r="1.2" fill="#111"/>
<circle cx="83.8" cy="233.9" r="1.2" fill="#111"/>
<circle cx="84.6" cy="236.4" r="1.2" fill="#111"/>
<circle cx="83.8" cy="240.5" r="1.2" fill="#111"/>
<circle cx="85.4" cy="238.8" r="1.2" fill="#111"/>
<circle cx="86.3" cy="234.7" r="1.2" fill="#111"/>
<circle cx="87.6" cy="233.1" r="1.2" fill="#111"/>
<circle cx="87.1" cy="237.2" r="1.2" fill="#111"/>
<circle cx="88.7" cy="235.5" r="1.2" fill="#111"/>
<circle cx="89.6" cy="238.0" r="1.2" fill="#111"/>
<circle cx="90.4" cy="236.4" r="1.2" fill="#111"/>
<circle cx="92.0" cy="234.7" r="1.2" fill="#111"/>
<circle cx="93.2" cy="237.2" r="1.2" fill="#111"/>
<circle cx="94.2" cy="231.4" r="1.2" fill="#111"/>
<circle cx="94.5" cy="233.9" r="1.2" fill="#111"/>
<circle cx="94.8" cy="226.5" r="1.2" fill="#111"/>
<circle cx="95.3" cy="236.4" r="1.2" fill="#111"/>
<circle cx="96.2" cy="238.0" r="1.2" fill="#111"/>
<circle cx="97.0" cy="234.7" r="1.2" fill="#111"/>
<circle cx="98.1" cy="235.5" r="1.2" fill="#111"/>
<circle cx="99.4" cy="237.2" r="1.2" fill="#111"/>
<circle cx="101.1" cy="238.8" r="1.2" fill="#111"/>
<circle cx="102.4" cy="233.1" r="1.2" fill="#111"/>
<circle cx="103.1" cy="235.5" r="1.2" fill="#111"/>
<circle cx="103.6" cy="237.2" r="1.2" fill="#111"/>
<circle cx="105.2" cy="229.8" r="1.2" fill="#111"/>
<circle cx="105.2" cy="224.0" r="1.2" fill="#111"/>
<circle cx="109.0" cy="229.8" r="1.2" fill="#111"/>
<circle cx="109.0" cy="225.7" r="1.2" fill="#111"/>
<circle cx="112.9" cy="213.7" r="1.2" fill="#111"/>
<circle cx="121.2" cy="223.7" r="1.2" fill="#111"/>
<circle cx="116.2" cy="228.7" r="1.2" fill="#111"/>
<circle cx="110.0" cy="232.4" r="1.2" fill="#111"/>
<circle cx="117.0" cy="233.7" r="1.2" fill="#111"/>
<circle cx="124.2" cy="234.2" r="1.2" fill="#111"/>
<circle cx="132.9" cy="221.2" r="1.2" fill="#111"/>
<circle cx="134.1" cy="220.5" r="1.2" fill="#111"/>
<circle cx="154.3" cy="225.5" r="1.2" fill="#111"/>
<circle cx="116.2" cy="246.9" r="1.2" fill="#111"/>
<circle cx="147.4" cy="175.7" r="1.2" fill="#111"/>
<circle cx="130.6" cy="186.9" r="1.2" fill="#111"/>
<text x="204.3" y="144.8" font-size="9.6" font-weight="bold" text-anchor="middle" fill="#111" style="stroke-width:0.5px">D</text>
<text x="283.3" y="154.1" font-size="8.0" font-weight="bold" text-anchor="middle" fill="#111" >Tumour</text>
<line x1="219.5" y1="164" x2="219.5" y2="249.8" stroke="#6e6e6e" stroke-width="1" />
<line x1="219" y1="249.3" x2="347.1" y2="249.3" stroke="#6e6e6e" stroke-width="1" />
<line x1="217.2" y1="164.5" x2="219.5" y2="164.5" stroke="#6e6e6e" stroke-width="1" />
<text x="216" y="166.7" font-size="6.1" font-weight="bold" text-anchor="end" fill="#111" >1.5</text>
<line x1="217.2" y1="191" x2="219.5" y2="191" stroke="#6e6e6e" stroke-width="1" />
<text x="216" y="193.2" font-size="6.1" font-weight="bold" text-anchor="end" fill="#111" >1.0</text>
<line x1="217.2" y1="217.5" x2="219.5" y2="217.5" stroke="#6e6e6e" stroke-width="1" />
<text x="216" y="219.7" font-size="6.1" font-weight="bold" text-anchor="end" fill="#111" >0.5</text>
<line x1="217.2" y1="244" x2="219.5" y2="244" stroke="#6e6e6e" stroke-width="1" />
<text x="216" y="246.2" font-size="6.1" font-weight="bold" text-anchor="end" fill="#111" >0.0</text>
<line x1="219.6" y1="249.3" x2="219.6" y2="251.4" stroke="#6e6e6e" stroke-width="1" />
<text x="219.6" y="258.3" font-size="6.1" font-weight="bold" text-anchor="middle" fill="#111" >0.0</text>
<line x1="262" y1="249.3" x2="262" y2="251.4" stroke="#6e6e6e" stroke-width="1" />
<text x="262" y="258.3" font-size="6.1" font-weight="bold" text-anchor="middle" fill="#111" >0.5</text>
<line x1="304.3" y1="249.3" x2="304.3" y2="251.4" stroke="#6e6e6e" stroke-width="1" />
<text x="304.3" y="258.3" font-size="6.1" font-weight="bold" text-anchor="middle" fill="#111" >1.0</text>
<line x1="346.6" y1="249.3" x2="346.6" y2="251.4" stroke="#6e6e6e" stroke-width="1" />
<text x="346.6" y="258.3" font-size="6.1" font-weight="bold" text-anchor="middle" fill="#111" >1.5</text>
<line x1="220" y1="244" x2="348" y2="244" stroke="#999" stroke-width="0.8" stroke-dasharray="1 1.6"/>
<text x="283" y="269" font-size="7.9" font-weight="bold" text-anchor="middle" fill="#111" >RQ SORT1A</text>
<text x="204.4" y="207" font-size="8.0" font-weight="bold" text-anchor="middle" fill="#111" transform="rotate(-90 204.4 207)" >RQ SORT1B</text>
<text x="223.7" y="169" font-size="6.0" font-weight="normal" text-anchor="start" fill="#222" stroke="#222" stroke-width="0.12">Spearman´s rho=0.476,</text>
<text x="223.7" y="177.6" font-size="6" fill="#222" stroke="#222" stroke-width="0.12">p=7.12x10<tspan dy="-2.4" font-size="4.2">-6</tspan><tspan dy="2.4">, n=81</tspan></text>
<circle cx="257.7" cy="196.4" r="1.2" fill="#111"/>
<circle cx="267.0" cy="199.4" r="1.2" fill="#111"/>
<circle cx="255.3" cy="204.9" r="1.2" fill="#111"/>
<circle cx="256.6" cy="216.1" r="1.2" fill="#111"/>
<circle cx="264.8" cy="216.1" r="1.2" fill="#111"/>
<circle cx="261.5" cy="218.3" r="1.2" fill="#111"/>
<circle cx="265.4" cy="218.8" r="1.2" fill="#111"/>
<circle cx="276.2" cy="219.2" r="1.2" fill="#111"/>
<circle cx="251.6" cy="221.6" r="1.2" fill="#111"/>
<circle cx="248.3" cy="223.2" r="1.2" fill="#111"/>
<circle cx="259.3" cy="223.2" r="1.2" fill="#111"/>
<circle cx="257.7" cy="224.9" r="1.2" fill="#111"/>
<circle cx="250.5" cy="225.4" r="1.2" fill="#111"/>
<circle cx="264.8" cy="226.5" r="1.2" fill="#111"/>
<circle cx="274.7" cy="227.1" r="1.2" fill="#111"/>
<circle cx="247.2" cy="227.6" r="1.2" fill="#111"/>
<circle cx="258.2" cy="228.7" r="1.2" fill="#111"/>
<circle cx="253.8" cy="229.8" r="1.2" fill="#111"/>
<circle cx="246.1" cy="230.9" r="1.2" fill="#111"/>
<circle cx="249.4" cy="230.9" r="1.2" fill="#111"/>
<circle cx="244.5" cy="232.4" r="1.2" fill="#111"/>
<circle cx="252.7" cy="232.4" r="1.2" fill="#111"/>
<circle cx="263.7" cy="232.4" r="1.2" fill="#111"/>
<circle cx="247.2" cy="233.7" r="1.2" fill="#111"/>
<circle cx="254.9" cy="234.2" r="1.2" fill="#111"/>
<circle cx="265.9" cy="234.2" r="1.2" fill="#111"/>
<circle cx="232.2" cy="235.7" r="1.2" fill="#111"/>
<circle cx="236.2" cy="235.2" r="1.2" fill="#111"/>
<circle cx="239.5" cy="236.4" r="1.2" fill="#111"/>
<circle cx="241.7" cy="235.2" r="1.2" fill="#111"/>
<circle cx="245.0" cy="236.4" r="1.2" fill="#111"/>
<circle cx="251.1" cy="235.9" r="1.2" fill="#111"/>
<circle cx="263.2" cy="235.9" r="1.2" fill="#111"/>
<circle cx="256.0" cy="237.5" r="1.2" fill="#111"/>
<circle cx="267.0" cy="237.5" r="1.2" fill="#111"/>
<circle cx="269.2" cy="238.1" r="1.2" fill="#111"/>
<circle cx="281.9" cy="238.1" r="1.2" fill="#111"/>
<circle cx="237.3" cy="238.1" r="1.2" fill="#111"/>
<circle cx="240.6" cy="238.6" r="1.2" fill="#111"/>
<circle cx="242.8" cy="239.7" r="1.2" fill="#111"/>
<circle cx="238.8" cy="240.3" r="1.2" fill="#111"/>
<circle cx="246.7" cy="239.7" r="1.2" fill="#111"/>
<circle cx="304.4" cy="170.2" r="1.2" fill="#111"/>
<circle cx="305.9" cy="178.8" r="1.2" fill="#111"/>
<circle cx="288.9" cy="189.2" r="1.2" fill="#111"/>
<circle cx="288.2" cy="195.2" r="1.2" fill="#111"/>
<circle cx="290.6" cy="196.5" r="1.2" fill="#111"/>
<circle cx="297.6" cy="196.2" r="1.2" fill="#111"/>
<circle cx="295.9" cy="202.5" r="1.2" fill="#111"/>
<circle cx="288.2" cy="208.2" r="1.2" fill="#111"/>
<circle cx="297.6" cy="217.2" r="1.2" fill="#111"/>
<circle cx="293.9" cy="220.2" r="1.2" fill="#111"/>
<circle cx="289.4" cy="226.2" r="1.2" fill="#111"/>
<circle cx="343.8" cy="228.4" r="1.2" fill="#111"/>
<circle cx="230.7" cy="244.3" r="1.2" fill="#111"/>
<circle cx="232.9" cy="244.3" r="1.2" fill="#111"/>
<circle cx="235.1" cy="244.3" r="1.2" fill="#111"/>
<circle cx="238.4" cy="244.3" r="1.2" fill="#111"/>
<circle cx="240.6" cy="244.3" r="1.2" fill="#111"/>
<circle cx="242.8" cy="244.3" r="1.2" fill="#111"/>
<circle cx="248.3" cy="244.3" r="1.2" fill="#111"/>
<circle cx="250.5" cy="244.3" r="1.2" fill="#111"/>
<circle cx="252.7" cy="244.3" r="1.2" fill="#111"/>
<circle cx="258.2" cy="244.3" r="1.2" fill="#111"/>
<circle cx="260.4" cy="244.3" r="1.2" fill="#111"/>
<circle cx="264.8" cy="244.3" r="1.2" fill="#111"/>
<circle cx="267.0" cy="244.3" r="1.2" fill="#111"/>
<circle cx="279.0" cy="244.3" r="1.2" fill="#111"/>
<circle cx="290.6" cy="244.3" r="1.2" fill="#111"/>
<text transform="translate(373.7,145.2) scale(0.76,1.04)" font-size="9.6" font-weight="bold" fill="#111" style="stroke-width:0.55px">E</text>
<line x1="416" y1="162.3" x2="416" y2="186.8" stroke="#888" stroke-width="1" />
<line x1="413.6" y1="186.8" x2="417.6" y2="186.8" stroke="#6e6e6e" stroke-width="1" />
<line x1="413.6" y1="192.4" x2="417.6" y2="192.4" stroke="#6e6e6e" stroke-width="1" />
<line x1="416" y1="192.4" x2="416" y2="248.7" stroke="#888" stroke-width="1" />
<line x1="415.5" y1="248.3" x2="545" y2="248.3" stroke="#6e6e6e" stroke-width="1" />
<line x1="413.3" y1="162.8" x2="415.6" y2="162.8" stroke="#6e6e6e" stroke-width="1" />
<text x="412" y="164.8" font-size="5.6" font-weight="bold" text-anchor="end" fill="#111">10<tspan dy="-2" font-size="3.6">5</tspan></text>
<line x1="413.3" y1="170" x2="415.6" y2="170" stroke="#6e6e6e" stroke-width="1" />
<text x="412" y="172" font-size="5.6" font-weight="bold" text-anchor="end" fill="#111">10<tspan dy="-2" font-size="3.6">4</tspan></text>
<line x1="413.3" y1="177.3" x2="415.6" y2="177.3" stroke="#6e6e6e" stroke-width="1" />
<text x="412" y="179.3" font-size="5.6" font-weight="bold" text-anchor="end" fill="#111">10<tspan dy="-2" font-size="3.6">3</tspan></text>
<line x1="413.3" y1="184.6" x2="415.6" y2="184.6" stroke="#6e6e6e" stroke-width="1" />
<text x="412" y="186.6" font-size="5.6" font-weight="bold" text-anchor="end" fill="#111">10<tspan dy="-2" font-size="3.6">2</tspan></text>
<line x1="413.2" y1="192.4" x2="415.5" y2="192.4" stroke="#6e6e6e" stroke-width="1" />
<text x="411.2" y="194.70000000000002" font-size="6.2" font-weight="bold" text-anchor="end" fill="#111" >100</text>
<line x1="413.2" y1="211" x2="415.5" y2="211" stroke="#6e6e6e" stroke-width="1" />
<text x="411.2" y="213.3" font-size="6.2" font-weight="bold" text-anchor="end" fill="#111" >10</text>
<line x1="413.2" y1="229.6" x2="415.5" y2="229.6" stroke="#6e6e6e" stroke-width="1" />
<text x="411.2" y="231.9" font-size="6.2" font-weight="bold" text-anchor="end" fill="#111" >1</text>
<line x1="413.2" y1="248.2" x2="415.5" y2="248.2" stroke="#6e6e6e" stroke-width="1" />
<text x="411.2" y="250.5" font-size="6.2" font-weight="bold" text-anchor="end" fill="#111" >0.1</text>
<line x1="416" y1="229.6" x2="545" y2="229.6" stroke="#999" stroke-width="0.8" stroke-dasharray="1 1.6"/>
<line x1="448" y1="248.2" x2="448" y2="250.2" stroke="#6e6e6e" stroke-width="1" />
<line x1="512.5" y1="248.2" x2="512.5" y2="250.2" stroke="#6e6e6e" stroke-width="1" />
<text x="390.1" y="205.4" font-size="7.0" font-weight="bold" text-anchor="middle" fill="#111" transform="rotate(-90 390.1 205.4)" >RQ SORT1A / RQ SORT1B</text>
<text x="448.2" y="258.0" font-size="6.5" font-weight="bold" text-anchor="middle" fill="#111" >Normal</text>
<text x="512.4" y="258.0" font-size="6.5" font-weight="bold" text-anchor="middle" fill="#111" >Tumour</text>
<path d="M447.6 158.7V151.7H512.6V158.7" fill="none" stroke="#555" stroke-width="1"/>
<text x="482.3" y="150.3" font-size="7.1" font-weight="bold" text-anchor="middle" fill="#111">p=2.26x10<tspan dy="-3" font-size="5.0">-12</tspan></text>
<circle cx="448.3" cy="214.1" r="1.2" fill="#111"/>
<circle cx="448.3" cy="227.5" r="1.1" fill="#111"/>
<circle cx="451.5" cy="227.5" r="1.1" fill="#111"/>
<circle cx="445.1" cy="227.4" r="1.1" fill="#111"/>
<circle cx="454.7" cy="227.3" r="1.1" fill="#111"/>
<circle cx="441.9" cy="227.2" r="1.1" fill="#111"/>
<circle cx="427.0" cy="229.2" r="1.0" fill="#111"/>
<circle cx="429.9" cy="229.6" r="1.0" fill="#111"/>
<circle cx="432.9" cy="229.9" r="1.0" fill="#111"/>
<circle cx="435.8" cy="230.2" r="1.0" fill="#111"/>
<circle cx="438.8" cy="230.4" r="1.0" fill="#111"/>
<circle cx="441.7" cy="230.6" r="1.0" fill="#111"/>
<circle cx="444.7" cy="230.8" r="1.0" fill="#111"/>
<circle cx="447.6" cy="230.9" r="1.0" fill="#111"/>
<circle cx="450.5" cy="230.8" r="1.0" fill="#111"/>
<circle cx="453.5" cy="230.6" r="1.0" fill="#111"/>
<circle cx="456.4" cy="230.4" r="1.0" fill="#111"/>
<circle cx="459.4" cy="230.2" r="1.0" fill="#111"/>
<circle cx="462.3" cy="229.9" r="1.0" fill="#111"/>
<circle cx="465.3" cy="229.6" r="1.0" fill="#111"/>
<circle cx="468.2" cy="229.2" r="1.0" fill="#111"/>
<circle cx="428.4" cy="229.9" r="1.0" fill="#111"/>
<circle cx="431.3" cy="230.2" r="1.0" fill="#111"/>
<circle cx="434.3" cy="230.5" r="1.0" fill="#111"/>
<circle cx="437.2" cy="230.8" r="1.0" fill="#111"/>
<circle cx="440.2" cy="231.1" r="1.0" fill="#111"/>
<circle cx="443.1" cy="231.3" r="1.0" fill="#111"/>
<circle cx="446.1" cy="231.5" r="1.0" fill="#111"/>
<circle cx="449.0" cy="231.6" r="1.0" fill="#111"/>
<circle cx="451.9" cy="231.5" r="1.0" fill="#111"/>
<circle cx="454.9" cy="231.3" r="1.0" fill="#111"/>
<circle cx="457.8" cy="231.1" r="1.0" fill="#111"/>
<circle cx="460.8" cy="230.8" r="1.0" fill="#111"/>
<circle cx="463.7" cy="230.5" r="1.0" fill="#111"/>
<circle cx="466.7" cy="230.2" r="1.0" fill="#111"/>
<circle cx="469.6" cy="229.9" r="1.0" fill="#111"/>
<circle cx="427.0" cy="230.6" r="1.0" fill="#111"/>
<circle cx="429.9" cy="230.9" r="1.0" fill="#111"/>
<circle cx="432.9" cy="231.2" r="1.0" fill="#111"/>
<circle cx="435.8" cy="231.5" r="1.0" fill="#111"/>
<circle cx="438.8" cy="231.8" r="1.0" fill="#111"/>
<circle cx="441.7" cy="232.0" r="1.0" fill="#111"/>
<circle cx="444.7" cy="232.2" r="1.0" fill="#111"/>
<circle cx="447.6" cy="232.2" r="1.0" fill="#111"/>
<circle cx="450.5" cy="232.2" r="1.0" fill="#111"/>
<circle cx="453.5" cy="232.0" r="1.0" fill="#111"/>
<circle cx="456.4" cy="231.8" r="1.0" fill="#111"/>
<circle cx="459.4" cy="231.5" r="1.0" fill="#111"/>
<circle cx="462.3" cy="231.2" r="1.0" fill="#111"/>
<circle cx="465.3" cy="230.9" r="1.0" fill="#111"/>
<circle cx="468.2" cy="230.6" r="1.0" fill="#111"/>
<circle cx="428.4" cy="231.2" r="1.0" fill="#111"/>
<circle cx="431.3" cy="231.6" r="1.0" fill="#111"/>
<circle cx="434.3" cy="231.9" r="1.0" fill="#111"/>
<circle cx="437.2" cy="232.2" r="1.0" fill="#111"/>
<circle cx="440.2" cy="232.4" r="1.0" fill="#111"/>
<circle cx="443.1" cy="232.6" r="1.0" fill="#111"/>
<circle cx="446.1" cy="232.8" r="1.0" fill="#111"/>
<circle cx="449.0" cy="232.9" r="1.0" fill="#111"/>
<circle cx="451.9" cy="232.8" r="1.0" fill="#111"/>
<circle cx="454.9" cy="232.6" r="1.0" fill="#111"/>
<circle cx="457.8" cy="232.4" r="1.0" fill="#111"/>
<circle cx="460.8" cy="232.2" r="1.0" fill="#111"/>
<circle cx="463.7" cy="231.9" r="1.0" fill="#111"/>
<circle cx="466.7" cy="231.6" r="1.0" fill="#111"/>
<circle cx="469.6" cy="231.2" r="1.0" fill="#111"/>
<circle cx="449.9" cy="234.4" r="1.1" fill="#111"/>
<circle cx="446.7" cy="234.3" r="1.1" fill="#111"/>
<circle cx="453.1" cy="234.2" r="1.1" fill="#111"/>
<circle cx="443.5" cy="234.1" r="1.1" fill="#111"/>
<circle cx="456.3" cy="234.0" r="1.1" fill="#111"/>
<circle cx="440.3" cy="234.0" r="1.1" fill="#111"/>
<circle cx="459.5" cy="233.9" r="1.1" fill="#111"/>
<circle cx="437.1" cy="233.9" r="1.1" fill="#111"/>
<circle cx="448.3" cy="236.4" r="1.1" fill="#111"/>
<circle cx="451.5" cy="236.3" r="1.1" fill="#111"/>
<circle cx="445.1" cy="236.1" r="1.1" fill="#111"/>
<circle cx="454.7" cy="236.1" r="1.1" fill="#111"/>
<circle cx="441.9" cy="235.9" r="1.1" fill="#111"/>
<circle cx="449.9" cy="238.7" r="1.1" fill="#111"/>
<circle cx="446.7" cy="238.3" r="1.1" fill="#111"/>
<circle cx="512.4" cy="209.7" r="1.2" fill="#111"/>
<circle cx="512.5" cy="211.9" r="1.2" fill="#111"/>
<circle cx="514.3" cy="214.3" r="1.2" fill="#111"/>
<circle cx="510.9" cy="213.9" r="1.2" fill="#111"/>
<circle cx="512.7" cy="217.6" r="1.2" fill="#111"/>
<circle cx="516.0" cy="217.2" r="1.2" fill="#111"/>
<circle cx="509.5" cy="216.6" r="1.2" fill="#111"/>
<circle cx="514.3" cy="220.1" r="1.2" fill="#111"/>
<circle cx="511.0" cy="219.8" r="1.2" fill="#111"/>
<circle cx="517.3" cy="219.8" r="1.2" fill="#111"/>
<circle cx="507.7" cy="219.4" r="1.2" fill="#111"/>
<circle cx="512.6" cy="222.7" r="1.2" fill="#111"/>
<circle cx="515.9" cy="222.6" r="1.2" fill="#111"/>
<circle cx="509.3" cy="222.3" r="1.2" fill="#111"/>
<circle cx="519.0" cy="222.1" r="1.2" fill="#111"/>
<circle cx="506.0" cy="222.0" r="1.2" fill="#111"/>
<circle cx="512.5" cy="225.5" r="1.2" fill="#111"/>
<circle cx="515.8" cy="225.4" r="1.2" fill="#111"/>
<circle cx="509.2" cy="225.3" r="1.2" fill="#111"/>
<circle cx="519.2" cy="225.2" r="1.2" fill="#111"/>
<circle cx="506.3" cy="225.1" r="1.2" fill="#111"/>
<circle cx="522.5" cy="225.0" r="1.2" fill="#111"/>
<circle cx="502.9" cy="225.0" r="1.2" fill="#111"/>
<circle cx="525.8" cy="225.0" r="1.2" fill="#111"/>
<circle cx="499.4" cy="224.9" r="1.2" fill="#111"/>
<circle cx="528.8" cy="224.7" r="1.2" fill="#111"/>
<circle cx="496.5" cy="224.7" r="1.2" fill="#111"/>
<circle cx="532.2" cy="224.6" r="1.2" fill="#111"/>
<circle cx="493.1" cy="224.6" r="1.2" fill="#111"/>
<circle cx="512.6" cy="227.8" r="1.2" fill="#111"/>
<circle cx="515.7" cy="227.8" r="1.2" fill="#111"/>
<circle cx="509.5" cy="227.7" r="1.2" fill="#111"/>
<circle cx="518.9" cy="227.7" r="1.2" fill="#111"/>
<circle cx="506.1" cy="227.5" r="1.2" fill="#111"/>
<circle cx="522.5" cy="227.5" r="1.2" fill="#111"/>
<circle cx="502.8" cy="227.4" r="1.2" fill="#111"/>
<circle cx="525.8" cy="227.4" r="1.2" fill="#111"/>
<circle cx="499.6" cy="227.3" r="1.2" fill="#111"/>
<circle cx="528.7" cy="227.2" r="1.2" fill="#111"/>
<circle cx="496.3" cy="227.1" r="1.2" fill="#111"/>
<circle cx="531.9" cy="227.0" r="1.2" fill="#111"/>
<circle cx="493.1" cy="227.0" r="1.2" fill="#111"/>
<circle cx="514.2" cy="230.3" r="1.2" fill="#111"/>
<circle cx="510.8" cy="230.2" r="1.2" fill="#111"/>
<circle cx="517.4" cy="230.0" r="1.2" fill="#111"/>
<circle cx="507.9" cy="229.9" r="1.2" fill="#111"/>
<circle cx="520.9" cy="229.8" r="1.2" fill="#111"/>
<circle cx="504.6" cy="229.8" r="1.2" fill="#111"/>
<circle cx="523.9" cy="229.6" r="1.2" fill="#111"/>
<circle cx="501.3" cy="229.5" r="1.2" fill="#111"/>
<circle cx="527.3" cy="229.4" r="1.2" fill="#111"/>
<circle cx="498.0" cy="229.3" r="1.2" fill="#111"/>
<circle cx="514.4" cy="232.6" r="1.2" fill="#111"/>
<circle cx="510.8" cy="232.6" r="1.2" fill="#111"/>
<circle cx="517.7" cy="232.3" r="1.2" fill="#111"/>
<circle cx="507.8" cy="232.1" r="1.2" fill="#111"/>
<circle cx="520.5" cy="232.0" r="1.2" fill="#111"/>
<circle cx="504.3" cy="232.0" r="1.2" fill="#111"/>
<circle cx="512.8" cy="234.9" r="1.2" fill="#111"/>
<circle cx="515.7" cy="234.8" r="1.2" fill="#111"/>
<circle cx="509.5" cy="234.5" r="1.2" fill="#111"/>
<circle cx="512.7" cy="236.9" r="1.2" fill="#111"/>
<circle cx="512.2" cy="163.8" r="1.2" fill="#111"/>
<circle cx="513.8" cy="165.2" r="1.2" fill="#111"/>
<circle cx="510.2" cy="166.2" r="1.2" fill="#111"/>
<circle cx="511.2" cy="168.2" r="1.2" fill="#111"/>
<circle cx="510.2" cy="169.8" r="1.2" fill="#111"/>
<circle cx="513.2" cy="170.2" r="1.2" fill="#111"/>
<circle cx="511.2" cy="174.7" r="1.2" fill="#111"/>
<circle cx="513.6" cy="174.7" r="1.2" fill="#111"/>
<circle cx="510.8" cy="177.9" r="1.2" fill="#111"/>
<circle cx="513.2" cy="178.3" r="1.2" fill="#111"/>
<circle cx="508.5" cy="181.7" r="1.2" fill="#111"/>
<circle cx="510.6" cy="181.3" r="1.2" fill="#111"/>
<circle cx="512.8" cy="180.3" r="1.2" fill="#111"/>
<circle cx="514.2" cy="182.3" r="1.2" fill="#111"/>
<circle cx="516.2" cy="182.7" r="1.2" fill="#111"/>
<circle cx="511.8" cy="183.3" r="1.2" fill="#111"/>
<circle cx="513.8" cy="184.0" r="1.2" fill="#111"/>
</g>
</svg>
</body></html>
